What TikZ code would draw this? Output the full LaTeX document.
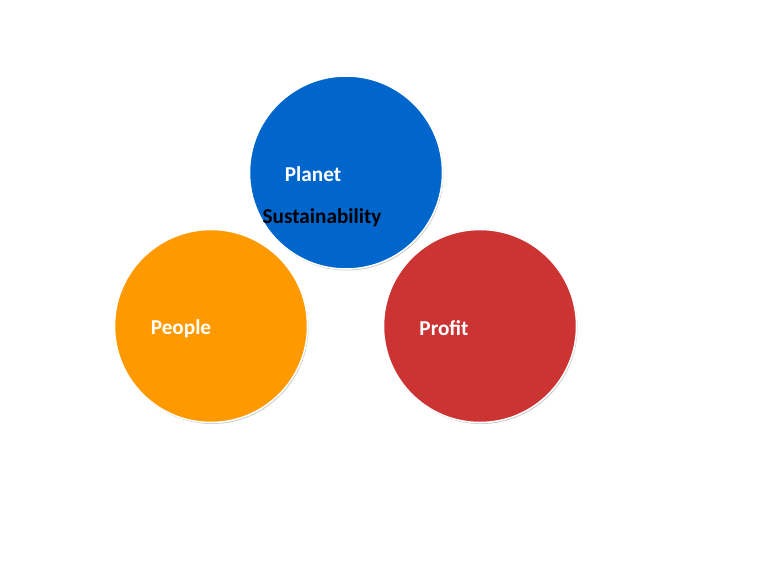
\documentclass[tikz,border=0pt]{standalone}
\usepackage{fontspec}
\setmainfont{Carlito}
\usetikzlibrary{shadows}
\definecolor{planetblue}{HTML}{0066CC}
\definecolor{peopleorange}{HTML}{FF9900}
\definecolor{profitred}{HTML}{CC3333}
\begin{document}
\begin{tikzpicture}[x=1pt,y=-1pt,
  disc/.style={circle,minimum size=193pt,inner sep=0pt,draw=white,line width=1.5pt,
    drop shadow={shadow xshift=1pt,shadow yshift=-1.5pt,fill=black!40,opacity=0.5}},
  lab/.style={font=\bfseries\fontsize{21.2}{25}\selectfont,text=white,inner sep=0pt}]
\useasboundingbox (0,0) rectangle (768,576);
\node[disc,fill=planetblue] (planet) at (346,172.5) {};
\node[disc,fill=peopleorange] (people) at (211,326) {};
\node[disc,fill=profitred] (profit) at (480,326) {};
\node[lab] (planetlab) at (313,174.5) {Planet};
\node[lab,text=black] (sust) at (322,217.5) {Sustainability};
\node[lab] (peoplelab) at (181,328.5) {People};
\node[lab] (profitlab) at (444,328.5) {Profit};
\end{tikzpicture}
\end{document}
